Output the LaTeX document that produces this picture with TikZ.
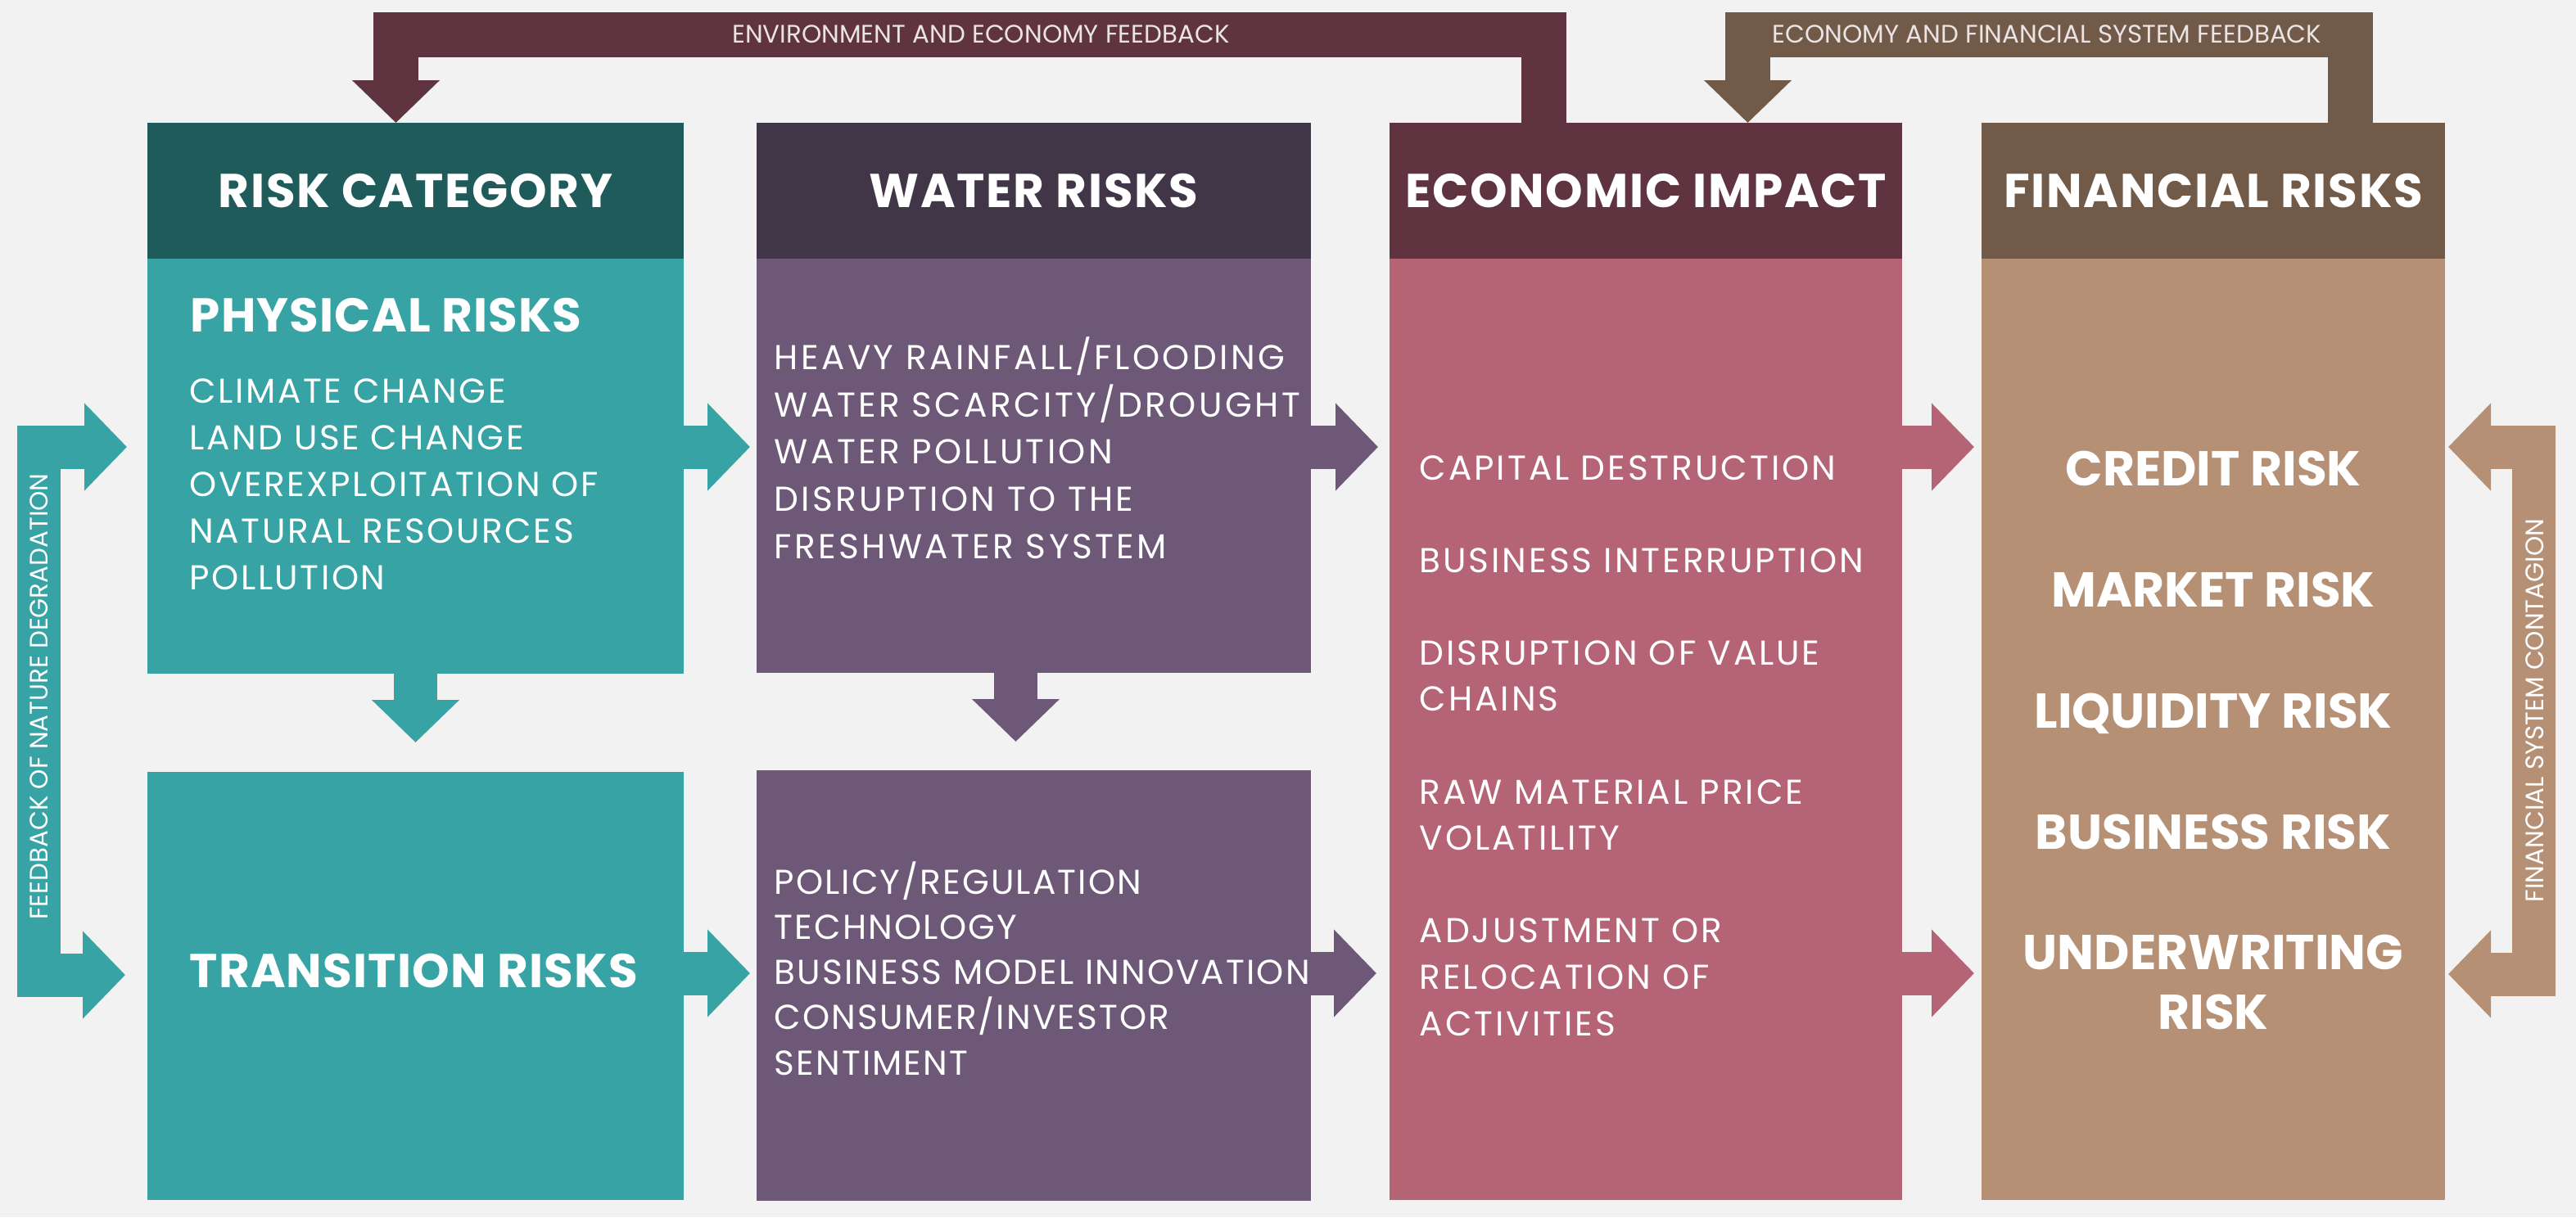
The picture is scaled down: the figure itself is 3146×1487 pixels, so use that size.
\documentclass[tikz,border=0pt]{standalone}
\usepackage{fontspec}
\setmainfont{Poppins}
\newfontfamily\itemfont{Poppins}[LetterSpace=7]
\newfontfamily\headfont{Poppins}[LetterSpace=3]
\usetikzlibrary{arrows.meta, positioning}

\definecolor{bgcol}{HTML}{F1F2F1}
\definecolor{tealdark}{HTML}{1F5B5B}
\definecolor{tealbody}{HTML}{37A3A4}
\definecolor{purpdark}{HTML}{413647}
\definecolor{purpbody}{HTML}{6D5878}
\definecolor{econdark}{HTML}{5F333F}
\definecolor{econbody}{HTML}{B56476}
\definecolor{findark}{HTML}{725A49}
\definecolor{finbody}{HTML}{B59075}
\definecolor{bandtext}{HTML}{EAE4E4}

\begin{document}
\begin{tikzpicture}
    [
        x=0.1mm, y=-0.1mm,
        head/.style = {
            anchor=north west, inner sep=0pt, outer sep=0pt, minimum height=16.6mm,
            text=white, font=\headfont\fontsize{16.5}{20}\selectfont\bfseries
        },
        panel/.style = {
            anchor=north west, inner sep=0pt, outer sep=0pt
        },
        title/.style = {
            anchor=base west, inner sep=0pt, text=white,
            font=\headfont\fontsize{16.5}{20}\selectfont\bfseries\addfontfeatures{LetterSpace=2}
        },
        % anchored at the baseline of the last line
        items/.style = {
            anchor=base west, inner sep=0pt, align=left, text=white,
            font=\itemfont\fontsize{12}{16.2}\selectfont
        },
        flow/.style = {
            draw=#1, line width=5.3mm,
            >={Triangle[length=5.2mm 0 0, width=10.4mm 0 0]}
        },
        band/.style = {
            inner sep=0pt, text=bandtext, font=\fontsize{8.8}{10}\selectfont
        },
    ]
    \fill[bgcol] (0,0) rectangle (3146,1487);
    \useasboundingbox (0,0) rectangle (3146,1487);

    % columns
    \node[head, fill=tealdark, minimum width=65.5mm] (rchead) at (180,150) {RISK CATEGORY};
    \node[panel, fill=tealbody, minimum width=65.5mm, minimum height=50.7mm] (phys) at (180,316) {};
    \node[panel, fill=tealbody, minimum width=65.5mm, minimum height=52.3mm] (trans) at (180,943) {};
    \node[head, fill=purpdark, minimum width=67.7mm] (whead) at (924,150) {WATER RISKS};
    \node[panel, fill=purpbody, minimum width=67.7mm, minimum height=50.6mm] (wup) at (924,316) {};
    \node[panel, fill=purpbody, minimum width=67.7mm, minimum height=52.6mm] (wlow) at (924,941) {};
    \node[head, fill=econdark, minimum width=62.6mm] (ehead) at (1697,150) {ECONOMIC IMPACT};
    \node[panel, fill=econbody, minimum width=62.6mm, minimum height=115mm] (econ) at (1697,316) {};
    \node[head, fill=findark, minimum width=56.6mm] (fhead) at (2420,150) {FINANCIAL RISKS};
    \node[panel, fill=finbody, minimum width=56.6mm, minimum height=115mm] (fin) at (2420,316) {};

    % texts
    \node[title] (physhd) at (232,405) {PHYSICAL RISKS};
    \node[items, font=\itemfont\fontsize{12}{16.2}\selectfont\addfontfeatures{LetterSpace=6}] (physit) at (231,720) {CLIMATE CHANGE\\LAND USE CHANGE\\OVEREXPLOITATION OF\\NATURAL RESOURCES\\POLLUTION};
    \node[title] (transhd) at (231,1206) {TRANSITION RISKS};
    \node[items, font=\itemfont\fontsize{12}{16.4}\selectfont\addfontfeatures{LetterSpace=8}] (wupit) at (945,682) {HEAVY RAINFALL/FLOODING\\WATER SCARCITY/DROUGHT\\WATER POLLUTION\\DISRUPTION TO THE\\FRESHWATER SYSTEM};
    \node[items, font=\itemfont\fontsize{12}{15.7}\selectfont\addfontfeatures{LetterSpace=5}] (wlowit) at (945,1313) {POLICY/REGULATION\\TECHNOLOGY\\BUSINESS MODEL INNOVATION\\CONSUMER/INVESTOR\\SENTIMENT};
    \node[items, font=\itemfont\fontsize{12}{16.1}\selectfont] (econit) at (1733,1265) {CAPITAL DESTRUCTION\\[16.1pt]BUSINESS INTERRUPTION\\[16.1pt]DISRUPTION OF VALUE\\CHAINS\\[16.1pt]RAW MATERIAL PRICE\\VOLATILITY\\[16.1pt]ADJUSTMENT OR\\RELOCATION OF\\ACTIVITIES};
    \node[items, anchor=base, align=center, font=\fontsize{17}{20.5}\selectfont\bfseries] (finit) at (2703,1257) {CREDIT RISK\\[21.6pt]MARKET RISK\\[21.6pt]LIQUIDITY RISK\\[21.6pt]BUSINESS RISK\\[21.6pt]UNDERWRITING\\RISK};

    % flows between columns
    \coordinate (rowA) at (0,546);
    \coordinate (rowB) at (0,1189);
    \draw[flow=tealbody, ->, shorten >=0.8mm] (phys.east |- rowA) -- (wup.west |- rowA);
    \draw[flow=tealbody, ->, shorten >=0.8mm] (trans.east |- rowB) -- (wlow.west |- rowB);
    \draw[flow=tealbody, ->, shorten >=3.6mm] (phys.south) -- (trans.north);
    \draw[flow=purpbody, ->, shorten >=3.5mm] ([xshift=-2.2mm]wup.south) -- ([xshift=-2.2mm]wlow.north);
    \draw[flow=purpbody, ->, shorten >=1.4mm] (wup.east |- rowA) -- (econ.west |- rowA);
    \draw[flow=purpbody, ->, shorten >=1.6mm] (wlow.east |- rowB) -- (econ.west |- rowB);
    \draw[flow=econbody, ->, shorten >=0.9mm] (econ.east |- rowA) -- (fin.west |- rowA);
    \draw[flow=econbody, ->, shorten >=0.9mm] (econ.east |- rowB) -- (fin.west |- rowB);

    % feedback loops
    \coordinate (envR) at (1885.5,42.5);
    \coordinate (envL) at (483.5,42.5);
    \draw[flow=econdark, line width=5.5mm, ->] (ehead.north -| envR) -- (envR) -- (envL) -- (rchead.north -| envL);
    \node[band] (envlbl) at (1198,42) {ENVIRONMENT AND ECONOMY FEEDBACK};
    \coordinate (finR) at (2870.5,42.5);
    \coordinate (finL) at (2134.5,42.5);
    \draw[flow=findark, line width=5.5mm, ->] (fhead.north -| finR) -- (finR) -- (finL) -- (ehead.north -| finL);
    \node[band] (finlbl) at (2500,42) {ECONOMY AND FINANCIAL SYSTEM FEEDBACK};

    \coordinate (degT) at (47.5,546);
    \coordinate (degB) at (47.5,1191);
    \draw[flow=tealbody, <->, shorten <=2.5mm, shorten >=2.7mm] (phys.west |- degT) -- (degT) -- (degB) -- (trans.west |- degB);
    \node[band, text=white, rotate=90] (deglbl) at (48,851) {FEEDBACK OF NATURE DEGRADATION};
    \coordinate (conT) at (3094.5,546);
    \coordinate (conB) at (3094.5,1190);
    \draw[flow=finbody, <->, shorten <=0.4mm, shorten >=0.4mm] (fin.east |- conT) -- (conT) -- (conB) -- (fin.east |- conB);
    \node[band, text=white, rotate=90] (conlbl) at (3096,868) {FINANCIAL SYSTEM CONTAGION};
\end{tikzpicture}
\end{document}
